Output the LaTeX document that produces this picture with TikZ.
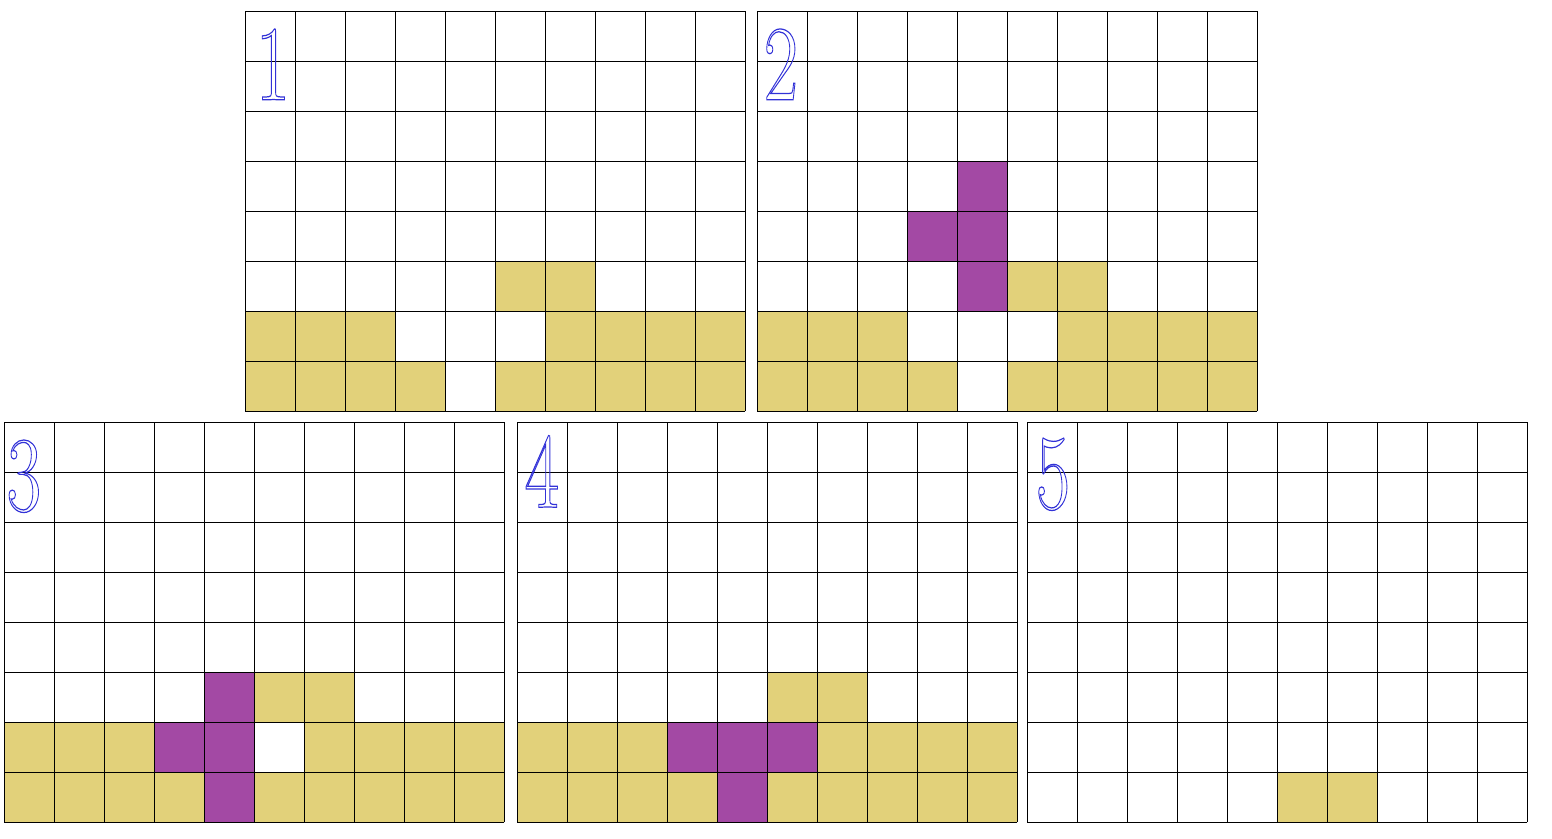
\documentclass[tikz,border=0pt]{standalone}
\usepackage{fontspec}
\usepackage{xcolor}
\usepackage{graphicx}
\definecolor{sand}{RGB}{226, 209, 122}
\definecolor{plum}{RGB}{163, 73, 164}
\definecolor{digit}{RGB}{50, 50, 215}
\newcommand{\outlined}[1]{\special{pdf:literal direct 1 Tr 0.7 w}#1\special{pdf:literal direct 0 Tr}}
\def\ground{5/5,6/5,0/6,1/6,2/6,6/6,7/6,8/6,9/6,0/7,1/7,2/7,3/7,5/7,6/7,7/7,8/7,9/7}

\begin{document}
\begin{tikzpicture}[
    board/.style={draw=black, line width=0.6pt},
    tag/.style={
        anchor=base west, inner sep=0pt,
        text=digit, font=\fontsize{61}{61}\selectfont
    }
]
\useasboundingbox (0,0) rectangle (31.04,-16.76);

% Board 1
\begin{scope}[shift={(4.906,-0.226)}]
  \foreach \c/\r in \ground \fill[sand] (\c,-\r) rectangle ++(1,-1);
  \draw[board] (0,-8) grid (10,0);
  \node[tag] (one) at (0.2,-1.77) {\outlined{\scalebox{0.7}[1]{1}}};
\end{scope}

% Board 2
\begin{scope}[shift={(15.146,-0.226)}]
  \foreach \c/\r in \ground \fill[sand] (\c,-\r) rectangle ++(1,-1);
  \foreach \c/\r in {4/3,3/4,4/4,4/5} \fill[plum] (\c,-\r) rectangle ++(1,-1);
  \draw[board] (0,-8) grid (10,0);
  \node[tag] (two) at (0.12,-1.77) {\outlined{\scalebox{0.7}[1]{2}}};
\end{scope}

% Board 3
\begin{scope}[shift={(0.086,-8.446)}]
  \foreach \c/\r in \ground \fill[sand] (\c,-\r) rectangle ++(1,-1);
  \foreach \c/\r in {4/5,3/6,4/6,4/7} \fill[plum] (\c,-\r) rectangle ++(1,-1);
  \fill[white] (5,-6) rectangle ++(1,-1);
  \draw[board] (0,-8) grid (10,0);
  \node[tag] (three) at (0.04,-1.77) {\outlined{\scalebox{0.7}[1]{3}}};
\end{scope}

% Board 4
\begin{scope}[shift={(10.346,-8.446)}]
  \foreach \c/\r in \ground \fill[sand] (\c,-\r) rectangle ++(1,-1);
  \foreach \c/\r in {3/6,4/6,5/6,4/7} \fill[plum] (\c,-\r) rectangle ++(1,-1);
  \draw[board] (0,-8) grid (10,0);
  \node[tag] (four) at (0.14,-1.7) {\outlined{\scalebox{0.7}[1]{4}}};
\end{scope}

% Board 5
\begin{scope}[shift={(20.546,-8.446)}]
  \foreach \c/\r in {5/7,6/7} \fill[sand] (\c,-\r) rectangle ++(1,-1);
  \draw[board] (0,-8) grid (10,0);
  \node[tag] (five) at (0.16,-1.73) {\outlined{\scalebox{0.7}[1]{5}}};
\end{scope}

\end{tikzpicture}
\end{document}
